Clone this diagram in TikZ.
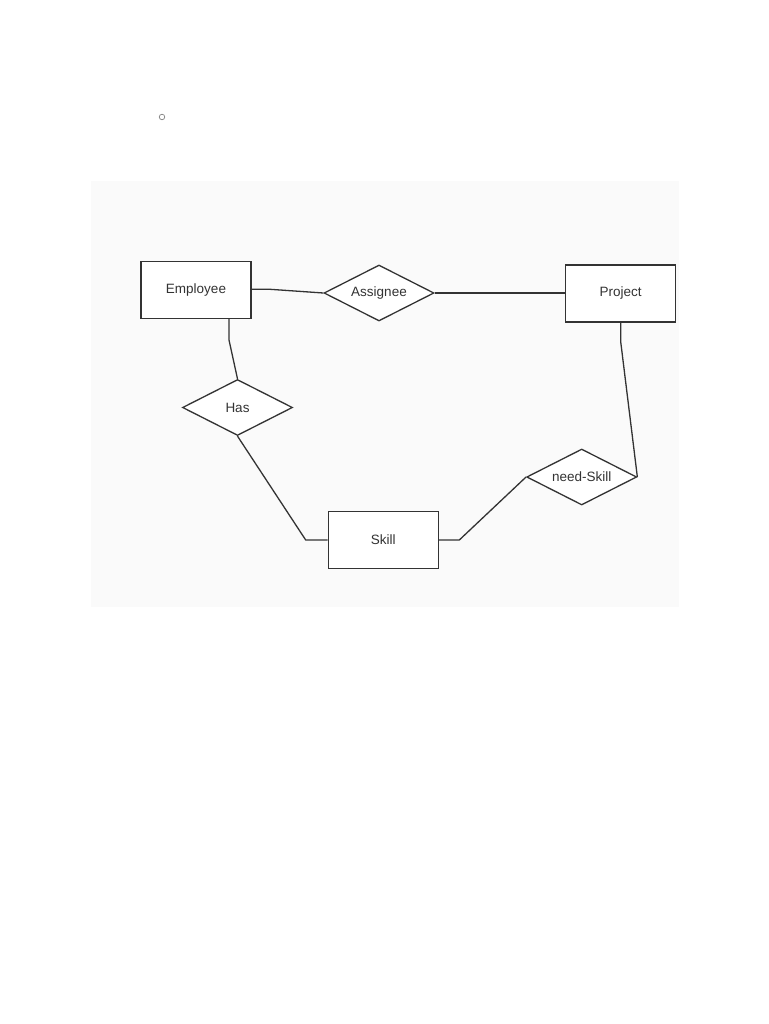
\documentclass[tikz,border=0pt]{standalone}
\usepackage{fontspec}
\setmainfont{Liberation Sans}
\usetikzlibrary{shapes.geometric}
\definecolor{ink}{HTML}{333333}
\definecolor{bgpanel}{HTML}{FAFAFA}
\begin{document}
\begin{tikzpicture}[x=1pt,y=-1pt,
  entity/.style={draw=ink,fill=white,line width=1.3pt,minimum width=110pt,minimum height=57pt,inner sep=0pt,font=\fontsize{13.5}{15}\selectfont,text=ink},
  relation/.style={diamond,aspect=2,draw=ink,fill=white,line width=1.3pt,minimum width=110pt,minimum height=56pt,inner sep=0pt,font=\fontsize{13.5}{15}\selectfont,text=ink},
  link/.style={draw=ink,line width=1.3pt}]
\useasboundingbox (0,0) rectangle (768,1024);
\fill[white] (0,0) rectangle (768,1024);
\fill[bgpanel] (91,181) rectangle (679,607);
\node[draw=gray,line width=0.7pt,circle,inner sep=0pt,minimum size=5.5pt] (dot) at (162,117) {};

\node[entity] (emp) at (196,289.7) {Employee};
\node[relation] (asg) at (379,293) {Assignee};
\node[entity] (proj) at (620.7,293.5) {Project};
\node[relation] (has) at (237.5,407.5) {Has};
\node[entity] (skill) at (383.3,540) {Skill};
\node[relation] (need) at (581.7,477) {need-Skill};

\coordinate (k1) at (270,289.3);
\coordinate (k2) at (229,340);
\coordinate (k3) at (305.7,540);
\coordinate (k4) at (459.3,540);
\coordinate (k5) at (620.7,341.7);

\draw[link] (emp.east |- k1) -- (k1) -- (asg.west);
\draw[link] (asg.east) -- (asg.east -| proj.west);
\draw[link] (emp.south -| k2) -- (k2) -- (has.north);
\draw[link] (has.south) -- (k3) -- (skill.west);
\draw[link] (skill.east) -- (k4) -- (need.west);
\draw[link] (proj.south) -- (k5) -- (need.east);
\end{tikzpicture}
\end{document}
